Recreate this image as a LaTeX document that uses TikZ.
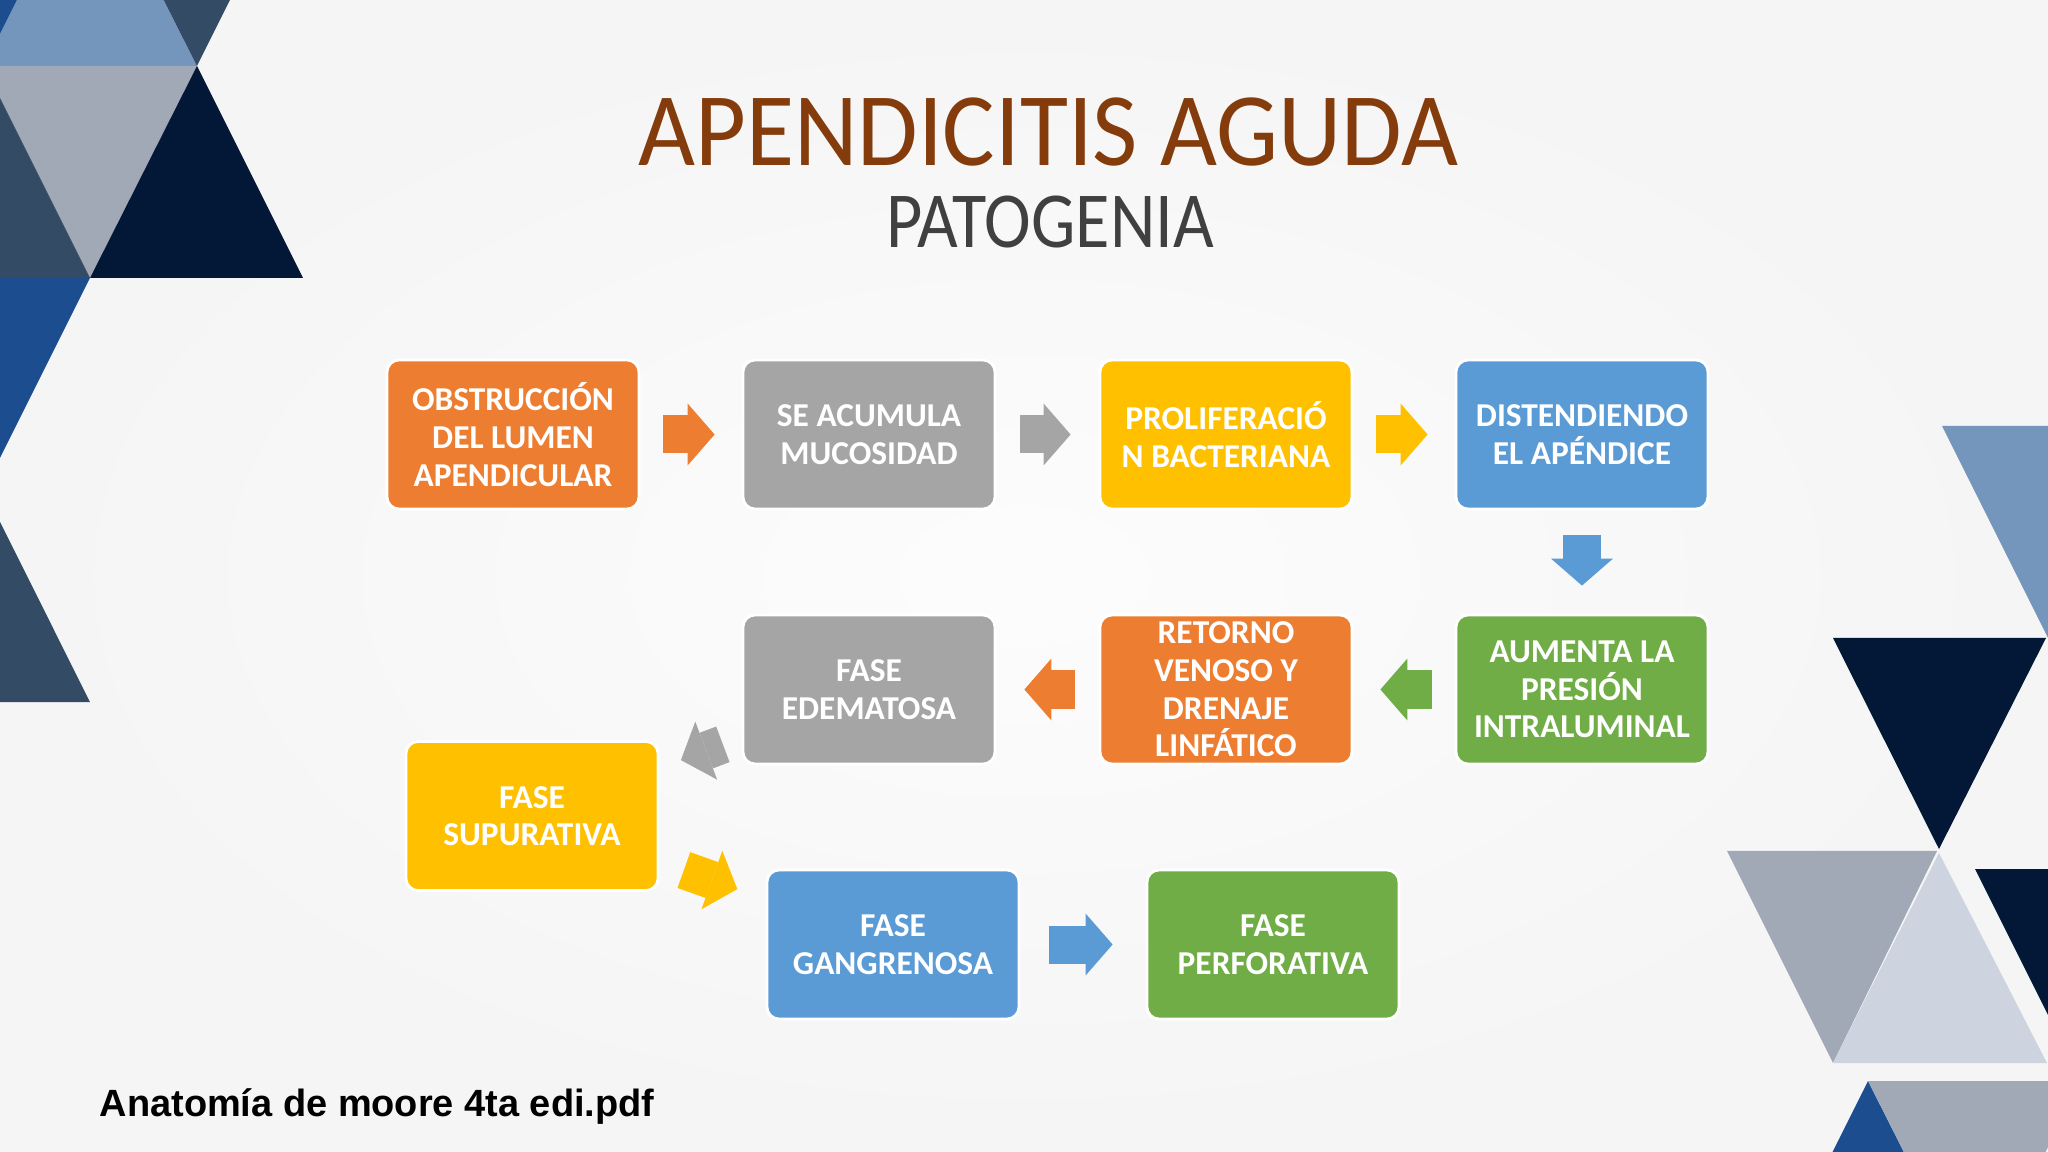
\documentclass[tikz,border=0pt]{standalone}
\usepackage{fontspec}
\setmainfont{Carlito}
\newfontfamily\sourcefont{Liberation Sans}
\usetikzlibrary{arrows.meta}
\definecolor{boxorange}{HTML}{ED7D31}
\definecolor{boxgray}{HTML}{A5A5A5}
\definecolor{boxyellow}{HTML}{FFC000}
\definecolor{boxblue}{HTML}{5B9BD5}
\definecolor{boxgreen}{HTML}{70AD47}
\definecolor{titlebrown}{HTML}{843C0C}
\definecolor{subgray}{HTML}{404040}
\definecolor{trilight}{HTML}{7596BC}
\definecolor{trislate}{HTML}{344B66}
\definecolor{triblue}{HTML}{1C4E8F}
\definecolor{trigray}{HTML}{A1A8B6}
\definecolor{trinavy}{HTML}{021836}
\definecolor{trilav}{HTML}{CDD4E0}
\tikzset{
  stage/.style={draw=white, line width=0.8pt, rounded corners=0.12cm,
    minimum width=2.52cm, minimum height=1.49cm, inner sep=0pt,
    align=center, text=white, font=\bfseries\fontsize{9.5}{10.7}\selectfont},
  flow/.style={line width=0.38cm, -{Triangle[width=0.62cm, length=0.27cm, line width=0pt]}},
  headline/.style={anchor=base, inner sep=0pt, text=titlebrown, font=\fontsize{28}{30}\selectfont},
  subline/.style={anchor=base, inner sep=0pt, text=subgray, font=\fontsize{20}{22}\selectfont},
}

\begin{document}
\begin{tikzpicture}
  % Background
  \useasboundingbox (0,0) rectangle (20.48,-11.52);
  \shade[inner color=gray!2, outer color=gray!8] (0,0) rectangle (20.48,-11.52);

  % Triangles
  \begin{scope}
    \clip (0,0) rectangle (20.48,-11.52);
    \fill[trilight] (0.90,1.46) -- (-0.16,-0.66) -- (1.97,-0.66) -- cycle;
    \fill[trislate] (0.90,1.46) -- (3.03,1.46) -- (1.97,-0.66) -- cycle;
    \fill[triblue] (-1.23,1.46) -- (0.90,1.46) -- (-0.16,-0.66) -- cycle;
    \fill[trigray] (-0.16,-0.66) -- (1.97,-0.66) -- (0.90,-2.78) -- cycle;
    \fill[trinavy] (1.97,-0.66) -- (0.90,-2.78) -- (3.03,-2.78) -- cycle;
    \fill[trislate] (-0.16,-0.66) -- (-1.23,-2.78) -- (0.90,-2.78) -- cycle;
    \fill[triblue] (-1.23,-2.78) -- (0.90,-2.78) -- (-0.16,-4.90) -- cycle;
    \fill[trislate] (-0.16,-4.90) -- (-1.23,-7.02) -- (0.90,-7.02) -- cycle;

    \fill[trilight] (19.42,-4.26) -- (21.55,-4.26) -- (20.48,-6.38) -- cycle;
    \fill[trinavy] (18.33,-6.38) -- (20.46,-6.38) -- (19.39,-8.49) -- cycle;
    \fill[trigray] (17.27,-8.51) -- (19.37,-8.51) -- (18.33,-10.63) -- cycle;
    \fill[trilav] (19.39,-8.53) -- (18.33,-10.63) -- (20.47,-10.63) -- cycle;
    \fill[trinavy] (19.75,-8.69) -- (21.88,-8.69) -- (20.81,-10.81) -- cycle;
    \fill[triblue] (18.68,-10.81) -- (17.62,-12.93) -- (19.75,-12.93) -- cycle;
    \fill[trigray] (18.68,-10.81) -- (20.81,-10.81) -- (19.75,-12.93) -- cycle;
  \end{scope}

  % Title
  \node[headline] (title) at (10.48,-1.66) {\scalebox{1}[1.06]{APENDICITIS AGUDA}};
  \node[subline] (subtitle) at (10.50,-2.48) {\scalebox{1}[1.13]{PATOGENIA}};

  % Stages
  \node[stage, fill=boxorange] (obstruccion) at (5.13,-4.345) {OBSTRUCCIÓN\\DEL LUMEN\\APENDICULAR};
  \node[stage, fill=boxgray] (mucosidad) at (8.69,-4.345) {SE ACUMULA\\MUCOSIDAD};
  \node[stage, fill=boxyellow] (bacterias) at (12.26,-4.345) {PROLIFERACIÓ\\N BACTERIANA};
  \node[stage, fill=boxblue] (distension) at (15.82,-4.345) {DISTENDIENDO\\EL APÉNDICE};
  \node[stage, fill=boxgreen] (presion) at (15.82,-6.895) {AUMENTA LA\\PRESIÓN\\INTRALUMINAL};
  \node[stage, fill=boxorange] (retorno) at (12.26,-6.895) {RETORNO\\VENOSO Y\\DRENAJE\\LINFÁTICO};
  \node[stage, fill=boxgray] (edematosa) at (8.69,-6.895) {FASE\\EDEMATOSA};
  \node[stage, fill=boxyellow] (supurativa) at (5.32,-8.16) {FASE\\SUPURATIVA};
  \node[stage, fill=boxblue] (gangrenosa) at (8.93,-9.445) {FASE\\GANGRENOSA};
  \node[stage, fill=boxgreen] (perforativa) at (12.73,-9.445) {FASE\\PERFORATIVA};

  % Arrows
  \draw[flow, boxorange, shorten <=0.23cm, shorten >=0.27cm] (obstruccion) -- (mucosidad);
  \draw[flow, boxgray, shorten <=0.24cm, shorten >=0.28cm] (mucosidad) -- (bacterias);
  \draw[flow, boxyellow, shorten <=0.23cm, shorten >=0.27cm] (bacterias) -- (distension);
  \draw[flow, boxblue, shorten <=0.25cm, shorten >=0.28cm] (distension) -- (presion);
  \draw[flow, boxgreen, shorten <=0.23cm, shorten >=0.27cm] (presion) -- (retorno);
  \draw[flow, boxorange, shorten <=0.24cm, shorten >=0.28cm] (retorno) -- (edematosa);
  \draw[flow, boxgray, shorten <=0.20cm, shorten >=0.23cm] (edematosa) -- (supurativa);
  \draw[flow, boxyellow, shorten <=0.26cm, shorten >=0.30cm] (supurativa) -- (gangrenosa);
  \draw[flow, boxblue, shorten <=0.29cm, shorten >=0.33cm] (gangrenosa) -- (perforativa);

  % Source
  \node[anchor=base west, inner sep=0pt, font=\sourcefont\bfseries\fontsize{10.8}{13}\selectfont] (source) at (0.99,-11.16) {Anatomía de moore 4ta edi.pdf};
\end{tikzpicture}
\end{document}
